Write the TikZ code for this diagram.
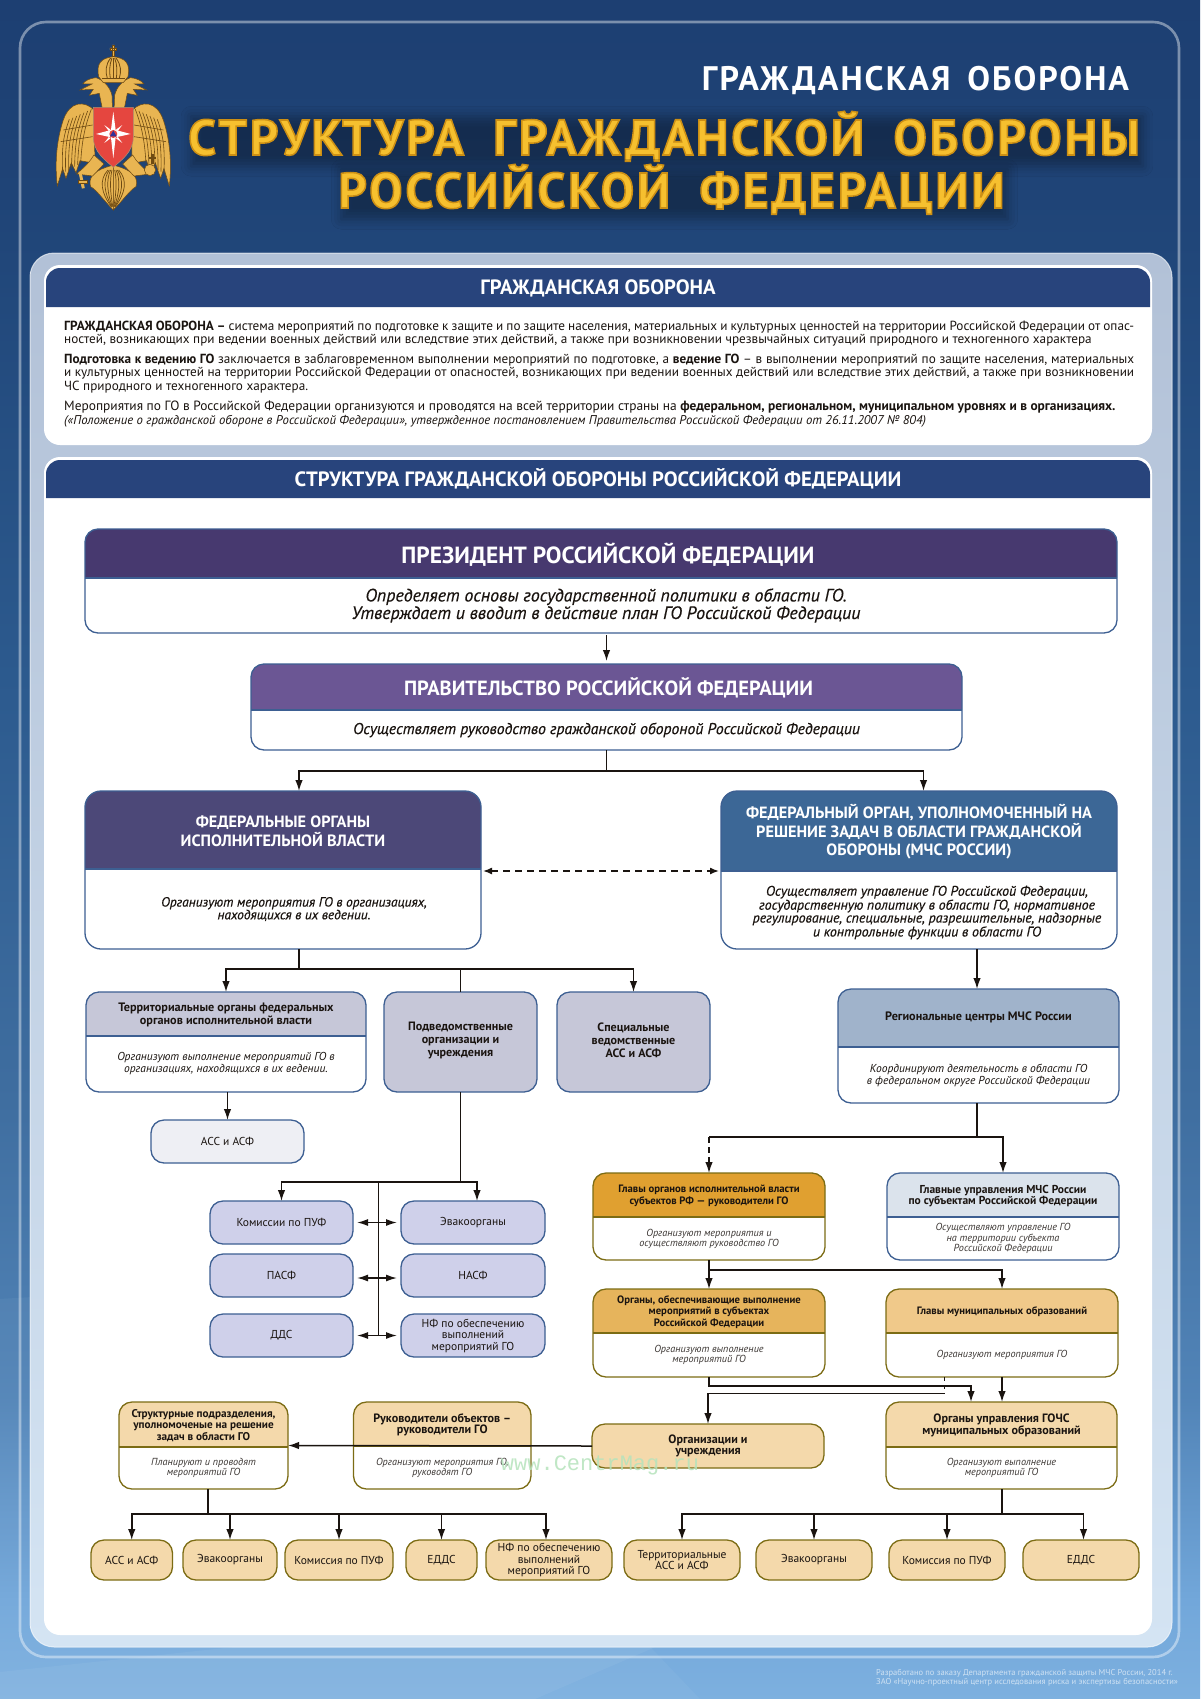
\documentclass[tikz,border=0pt]{standalone}
\usepackage{fontspec}
\setmainfont{PT Sans}
\newfontfamily\wmfont{Liberation Mono}
\newfontface\kickerfont[LetterSpace=6]{PT Sans Bold}
\newfontface\titlefont[LetterSpace=5.6,FakeBold=3]{PT Sans Bold}
\usetikzlibrary{arrows.meta,calc,shadows.blur}

\definecolor{paneltop}{HTML}{B2C1D7}
\definecolor{panellow}{HTML}{D4E4F3}
\definecolor{sechead}{HTML}{28447C}
\definecolor{edgeblue}{HTML}{3D5F92}
\definecolor{edgeolive}{HTML}{7C6C14}
\definecolor{inkc}{HTML}{1A1410}
\definecolor{eaglec}{HTML}{E9B552}
\definecolor{eagleln}{HTML}{6E4A12}
\definecolor{shieldc}{HTML}{E5463F}
\definecolor{HeadPres}{HTML}{47396F}
\definecolor{HeadGov}{HTML}{6B5694}
\definecolor{HeadFedL}{HTML}{4C4878}
\definecolor{HeadFedR}{HTML}{3C6796}
\definecolor{HeadGrey}{HTML}{C6C7D8}
\definecolor{PaleGrey}{HTML}{EEEFF4}
\definecolor{Lilac}{HTML}{CFD0EA}
\definecolor{HeadSteel}{HTML}{A0B3CB}
\definecolor{HeadGoldA}{HTML}{E0A030}
\definecolor{HeadPale}{HTML}{DBE3EC}
\definecolor{HeadGoldB}{HTML}{E6B45C}
\definecolor{HeadGoldC}{HTML}{F0C98A}
\definecolor{Tan}{HTML}{F4D9AB}
\definecolor{markc}{HTML}{B5E3BC}
\definecolor{creditc}{HTML}{CFE2F3}

\pgfdeclareverticalshading{bgfade}{100bp}{rgb(0bp)=(.49,.69,.875);
  rgb(25bp)=(.49,.69,.875); rgb(27.9bp)=(.447,.655,.855);
  rgb(33.8bp)=(.32,.518,.72); rgb(42.6bp)=(.247,.431,.627);
  rgb(54.4bp)=(.176,.357,.561); rgb(69.1bp)=(.122,.267,.467);
  rgb(75bp)=(.114,.247,.447); rgb(100bp)=(.114,.247,.447)}

\newcommand{\fs}[2]{\fontsize{#1}{#2}\selectfont}
\newcommand{\jl}[1]{\makebox[1070pt][s]{#1}}
\newcommand{\goldtext}[1]{\special{pdf:bcolor [0.965 0.753 0.184] [0.80 0.56 0.08]}#1\special{pdf:ecolor}}

\tikzset{
  hc/.store in=\hc, ec/.store in=\ec, tf/.store in=\tf, df/.store in=\df, rr/.store in=\rr,
  txs/.store in=\txs, tys/.store in=\tys, dxs/.store in=\dxs, dys/.store in=\dys,
  lvlpres/.style={hc=#1, ec=edgeblue, rr=13, tf=\fs{23.4}{27}\bfseries\color{white}, df=\fs{17.9}{16}\itshape\addfontfeature{FakeBold=0.3}\color{inkc}},
  lvlgov/.style={hc=#1, ec=edgeblue, rr=13, tf=\fs{20.5}{24}\bfseries\color{white}, df=\fs{15.7}{16}\itshape\addfontfeature{FakeBold=0.3}\color{inkc}},
  lvlfed/.style={hc=#1, ec=edgeblue, rr=16, tf=\fs{16.3}{18.6}\bfseries\color{white}, df=\fs{13.4}{12.7}\itshape\addfontfeature{FakeBold=0.3}\color{inkc}},
  lvlmid/.style={hc=#1, ec=edgeblue, rr=13, tf=\fs{12.2}{13}\bfseries\color{inkc}, df=\fs{11.5}{12}\itshape\color{inkc}},
  lvlgold/.style={hc=#1, ec=edgeolive, rr=13, tf=\fs{10.7}{11.5}\bfseries\color{inkc}, df=\fs{10.2}{10.2}\itshape\color{inkc!85}},
  lvlblue/.style={hc=#1, ec=edgeblue, rr=13, tf=\fs{11.5}{11.5}\bfseries\color{inkc}, df=\fs{10.2}{10.2}\itshape\color{inkc!85}},
  lvltan/.style={hc=#1, ec=edgeolive, rr=13, tf=\fs{12.1}{11.5}\bfseries\color{inkc}, df=\fs{10.2}{10.2}\itshape\color{inkc!85}},
  flat/.style={draw=#1, line width=1.3pt, rounded corners=13, align=center, inner sep=0pt, text=inkc},
  arr/.style={-{Latex[length=11pt,width=7.5pt]}, line width=1.5pt, draw=inkc},
  line/.style={line width=1.5pt, draw=inkc},
  twin/.style={{Latex[length=11pt,width=7pt]}-{Latex[length=11pt,width=7pt]}, line width=1.5pt, draw=inkc, shorten <=4pt, shorten >=4pt},
  sectitle/.style={font=\fs{20.7}{22}\bfseries, text=white},
  bodypar/.style={anchor=north west, inner sep=0pt, align=left, text=inkc, font=\fs{13.2}{13.7}},
  midcap/.style={align=center, text=inkc, font=\fs{12.1}{13}\bfseries},
  glow/.style={blur shadow={shadow xshift=3pt, shadow yshift=-5pt, shadow blur radius=10pt, shadow opacity=32}}
}

% box with a coloured head and a white body
\newcommand{\headbox}[9]{
  \tikzset{txs=0,tys=0,dxs=0,dys=0,#7}
  \fill[\hc] (#2,#6) [rounded corners=\rr] -- (#2,#3) -- (#4,#3) [sharp corners] -- (#4,#6) -- cycle;
  \node[draw=\ec, line width=1.3pt, rounded corners=\rr, inner sep=0pt, outer sep=0pt,
    minimum width={(#4-#2)*1pt}, minimum height={(#5-#3)*1pt}] (#1) at ({(#2+#4)/2},{(#3+#5)/2}) {};
  \draw[\ec, line width=1.3pt] (#2,#6) -- (#4,#6);
  \node[align=center, font=\tf] (#1h) at ({(#2+#4)/2+\txs},{(#3+#6)/2+1+\tys}) {#8};
  \node[align=center, font=\df] (#1b) at ({(#2+#4)/2+\txs+\dxs},{(#6+#5)/2+\dys}) {#9};
}
% box of one colour
\newcommand{\flatbox}[7]{
  \node[#6, outer sep=0pt, minimum width={(#4-#2)*1pt}, minimum height={(#5-#3)*1pt}] (#1) at ({(#2+#4)/2},{(#3+#5)/2}) {#7};
}

\begin{document}
\begin{tikzpicture}[x=1pt,y=-1pt]
\useasboundingbox (0,0) rectangle (1200,1699);
\shade[shading=bgfade] (0,0) rectangle (1200,1699);
\fill[white, opacity=0.04] (0,1299) -- (300,1280) -- (700,1699) -- (0,1699) -- cycle;
\fill[white, opacity=0.05] (0,1672) -- (300,1640) -- (660,1645) -- (535,1699) -- (0,1699) -- cycle;
\draw[white, opacity=0.42, line width=2.6pt, rounded corners=26] (20,22) rectangle (1179,1657);

% emblem
\begin{scope}[shift={(113.3,30)},x=0.3333pt,y=-0.3333pt]
\foreach \s in {1,-1} {
\begin{scope}[xscale=\s]
\fill[eaglec, draw=eagleln, line width=0.5pt] (-58,240) .. controls (-85,212) and (-130,212) .. (-150,270) .. controls (-170,330) and (-176,400) .. (-168,468) -- (-152,415) -- (-142,445) -- (-126,398) -- (-112,428) -- (-100,392) -- (-55,400) -- cycle;
\foreach \i in {0,...,6}
  \draw[eagleln, line width=0.6pt] ({-66-\i*11},{238+\i*5}) .. controls ({-90-\i*10},{300+\i*3}) and ({-95-\i*10},{350}) .. ({-98-\i*9},{400+\i*5});
\draw[eagleln, line width=0.6pt] (-62,285) -- (-150,300) (-62,320) -- (-158,335);
% head and neck
\fill[eaglec, draw=eagleln, line width=0.5pt] (-2,250) -- (-4,196) .. controls (-10,170) and (-30,150) .. (-52,143) .. controls (-70,145) and (-85,152) .. (-92,162) -- (-64,162) -- (-100,180) -- (-60,178) -- (-72,196) -- (-42,190) -- (-30,250) -- cycle;
% tail
\fill[eaglec, draw=eagleln, line width=0.5pt] (0,405) -- (-22,412) .. controls (-60,425) and (-76,445) .. (-68,470) .. controls (-50,480) and (-30,510) .. (0,540) -- cycle;
\foreach \i in {1,...,4}
  \draw[eagleln, line width=0.7pt] ({-\i*4},420) .. controls ({-\i*11},450) and ({-\i*9},490) .. ({-\i*1.5},530);
% leg
\fill[eaglec, draw=eagleln, line width=0.5pt] (-58,375) .. controls (-70,395) and (-85,410) .. (-110,432) -- (-62,438) -- (-28,402) -- cycle;
\end{scope}
}
% crown
\fill[eaglec, draw=eagleln, line width=0.5pt] (-44,140) .. controls (-52,100) and (-36,84) .. (0,80) .. controls (36,84) and (52,100) .. (44,140) -- (30,158) -- (-30,158) -- cycle;
\foreach \i in {-2,...,2}
  \draw[eagleln, line width=0.8pt] ({\i*4},84) .. controls ({\i*12},105) and ({\i*12},125) .. ({\i*9},145);
\draw[eagleln, line width=1pt] (-34,145) -- (34,145);
\fill[eaglec, draw=eagleln, line width=0.4pt] (-3,45) rectangle (3,80) (-10,54) rectangle (10,60);
% shield
\fill[shieldc, draw=eagleln!60, line width=0.5pt] (-60,232) -- (60,232) -- (60,320) .. controls (60,368) and (22,392) .. (0,412) .. controls (-22,392) and (-60,368) .. (-60,320) -- cycle;
\fill[white] (0,245) -- (7,300) -- (52,312) -- (7,322) -- (0,385) -- (-7,322) -- (-52,312) -- (-7,300) -- cycle;
\foreach \q in {45,135,225,315}
  \fill[white] ($(0,312)+(\q-12:16)$) -- ($(0,312)+(\q:38)$) -- ($(0,312)+(\q+12:16)$) -- cycle;
\fill[shieldc] (0,312) circle (12);
\fill[blue!50!black!80] (0,302) -- (10,319) -- (-10,319) -- cycle;
% orb and sword
\fill[eaglec, draw=eagleln, line width=0.5pt] (110,420) circle (17);
\draw[eagleln, line width=2.5pt] (118,403) -- (118,372) (108,384) -- (128,384);
\draw[eaglec, line width=3pt] (-100,425) -- (-90,475);
\fill[eaglec, draw=eagleln, line width=0.4pt] (-106,452) rectangle (-78,460);
\end{scope}

% titles
\node[font=\kickerfont\fs{34}{40}, text=white, inner sep=0pt, anchor=base] (kicker) at (915.5,91) {ГРАЖДАНСКАЯ\hspace{6pt} ОБОРОНА};
\node[font=\titlefont\fs{50}{56}, glow, inner sep=0pt, anchor=base] (title1) at (664,155) {\goldtext{СТРУКТУРА\hspace{14pt} ГРАЖДАНСКОЙ\hspace{14pt} ОБОРОНЫ}};
\node[font=\titlefont\fs{50}{56}, glow, inner sep=0pt, anchor=base] (title2) at (671.5,208) {\goldtext{РОССИЙСКОЙ\hspace{14pt} ФЕДЕРАЦИИ}};

% panels
\shade[top color=paneltop, bottom color=panellow, rounded corners=24] (30,253) rectangle (1172,1647);
\draw[white, opacity=0.6, line width=1pt, rounded corners=24] (30,253) rectangle (1172,1647);
\fill[white, rounded corners=16] (44,265) rectangle (1152,445);
\fill[sechead] (46,307) [rounded corners=14] -- (46,268) -- (1150,268) [sharp corners] -- (1150,307) -- cycle;
\node[sectitle] (sec1) at (598,288) {ГРАЖДАНСКАЯ ОБОРОНА};
\fill[white, rounded corners=16] (44,457) rectangle (1152,1635);
\fill[sechead] (46,498) [rounded corners=14] -- (46,460) -- (1150,460) [sharp corners] -- (1150,498) -- cycle;
\node[sectitle] (sec2) at (598,479) {СТРУКТУРА ГРАЖДАНСКОЙ ОБОРОНЫ РОССИЙСКОЙ ФЕДЕРАЦИИ};

\node[bodypar] (para1) at (64,320.5) {\jl{\textbf{ГРАЖДАНСКАЯ ОБОРОНА –} система мероприятий по подготовке к защите и по защите населения, материальных и культурных ценностей на территории Российской Федерации от опас-}\\ностей, возникающих при ведении военных действий или вследствие этих действий, а также при возникновении чрезвычайных ситуаций природного и техногенного характера};
\node[bodypar] (para2) at (64,353.5) {\jl{\textbf{Подготовка к ведению ГО} заключается в заблаговременном выполнении мероприятий по подготовке, а \textbf{ведение ГО} – в выполнении мероприятий по защите населения, материальных}\\\jl{и культурных ценностей на территории Российской Федерации от опасностей, возникающих при ведении военных действий или вследствие этих действий, а также при возникновении}\\ЧС природного и техногенного характера.};
\node[bodypar] (para3) at (64,400.5) {{\fontsize{13.4}{13.7}\selectfont Мероприятия по ГО в Российской Федерации организуются и проводятся на всей территории страны на \textbf{федеральном, региональном, муниципальном уровнях и в организациях.}}\\{\fontsize{12.7}{13.7}\selectfont\itshape («Положение о гражданской обороне в Российской Федерации», утвержденное постановлением Правительства Российской Федерации от 26.11.2007 № 804)}};

% boxes
\headbox{pres}{85}{529}{1117}{633}{578}{lvlpres=HeadPres, txs=7, dxs=-2}{ПРЕЗИДЕНТ РОССИЙСКОЙ ФЕДЕРАЦИИ}{Определяет основы государственной политики в области ГО.\\Утверждает и вводит в действие план ГО Российской Федерации}
\headbox{gov}{251}{664}{962}{750}{710}{lvlgov=HeadGov, txs=2, dxs=-2}{ПРАВИТЕЛЬСТВО РОССИЙСКОЙ ФЕДЕРАЦИИ}{Осуществляет руководство гражданской обороной Российской Федерации}
\headbox{fedl}{85}{791}{481}{949}{869}{lvlfed=HeadFedL, dxs=11}{ФЕДЕРАЛЬНЫЕ ОРГАНЫ\\ИСПОЛНИТЕЛЬНОЙ ВЛАСТИ}{Организуют мероприятия ГО в организациях,\\находящихся в их ведении.}
\headbox{fedr}{721}{791}{1117}{949}{871}{lvlfed=HeadFedR, dxs=8, dys=2.5, df=\fs{13.9}{12.9}\itshape\addfontfeature{FakeBold=0.3}\color{inkc}}{ФЕДЕРАЛЬНЫЙ ОРГАН, УПОЛНОМОЧЕННЫЙ НА\\РЕШЕНИЕ ЗАДАЧ В ОБЛАСТИ ГРАЖДАНСКОЙ\\ОБОРОНЫ (МЧС РОССИИ)}{Осуществляет управление ГО Российской Федерации,\\государственную политику в области ГО, нормативное\\регулирование, специальные, разрешительные, надзорные\\и контрольные функции в области ГО}

\headbox{terr}{86}{992}{366}{1092}{1036}{lvlmid=HeadGrey}{Территориальные органы федеральных\\органов исполнительной власти}{Организуют выполнение мероприятий ГО в\\организациях, находящихся в их ведении.}
\flatbox{podv}{384}{992}{537}{1092}{flat=edgeblue, fill=HeadGrey}{}
\node[midcap] (podvt) at ($(podv)+(0,-2)$) {Подведомственные\\организации и\\учреждения};
\flatbox{spec}{557}{992}{710}{1092}{flat=edgeblue, fill=HeadGrey}{}
\node[midcap] (spect) at ($(spec)+(0,-2)$) {Специальные\\ведомственные\\АСС и АСФ};
\flatbox{assf}{151}{1120}{304}{1163}{flat=edgeblue, fill=PaleGrey, font=\fs{11.5}{12}}{АСС и АСФ}

\flatbox{komis}{210}{1201}{353}{1244}{flat=edgeblue, fill=Lilac, font=\fs{11.5}{12}}{Комиссии по ПУФ}
\flatbox{evak}{401}{1201}{545}{1244}{flat=edgeblue, fill=Lilac, font=\fs{11.5}{12}}{Эвакоорганы}
\flatbox{pasf}{210}{1254}{353}{1297}{flat=edgeblue, fill=Lilac, font=\fs{11.5}{12}}{\raisebox{-5pt}{ПАСФ}}
\flatbox{nasf}{401}{1254}{545}{1297}{flat=edgeblue, fill=Lilac, font=\fs{11.5}{12}}{НАСФ}
\flatbox{dds}{210}{1314}{353}{1357}{flat=edgeblue, fill=Lilac, font=\fs{11.5}{12}}{\raisebox{-5pt}{ДДС}}
\flatbox{nfgo}{401}{1314}{545}{1357}{flat=edgeblue, fill=Lilac, font=\fs{11.5}{11.5}}{НФ по обеспечению\\выполнений\\мероприятий ГО}

\headbox{reg}{838}{989}{1119}{1103}{1047}{lvlmid=HeadSteel, tys=-2}{Региональные центры МЧС России}{Координируют деятельность в области ГО\\в федеральном округе Российской Федерации}
\headbox{glavy}{593}{1173}{825}{1260}{1217}{lvlgold=HeadGoldA}{Главы органов исполнительной власти\\субъектов РФ — руководители ГО}{Организуют мероприятия и\\осуществляют руководство ГО}
\headbox{glavn}{887}{1173}{1119}{1260}{1217}{lvlblue=HeadPale}{Главные управления МЧС России\\по субъектам Российской Федерации}{Осуществляют управление ГО\\на территории субъекта\\Российской Федерации}
\headbox{obesp}{593}{1289}{825}{1377}{1333}{lvlgold=HeadGoldB}{Органы, обеспечивающие выполнение\\мероприятий в субъектах\\Российской Федерации}{Организуют выполнение\\мероприятий ГО}
\headbox{mun}{886}{1289}{1118}{1377}{1333}{lvlgold=HeadGoldC}{Главы муниципальных образований}{Организуют мероприятия ГО}
\flatbox{orguch}{592}{1424}{824}{1468}{flat=edgeolive, fill=Tan, font=\fs{12.1}{11.5}\bfseries}{Организации и\\учреждения}
\headbox{upr}{886}{1402}{1117}{1489}{1447}{lvltan=Tan}{Органы управления ГОЧС\\муниципальных образований}{Организуют выполнение\\мероприятий ГО}
\headbox{ruk}{353.5}{1402}{531}{1489}{1446}{lvltan=Tan}{Руководители объектов –\\руководители ГО}{Организуют мероприятия ГО,\\руководят ГО}
\headbox{struct}{119}{1402}{288}{1489}{1447}{lvltan=Tan, tf=\fs{11.2}{11.4}\bfseries\color{inkc}}{Структурные подразделения,\\уполномоченые на решение\\задач в области ГО}{Планируют и проводят\\мероприятий ГО}

\flatbox{bassf}{91}{1540}{172.5}{1580}{flat=edgeolive, fill=Tan, font=\fs{11.5}{11.5}}{АСС и АСФ}
\flatbox{bevak}{183}{1540}{277}{1580}{flat=edgeolive, fill=Tan, font=\fs{11.5}{11.5}}{Эвакоорганы}
\flatbox{bkom}{285}{1540}{393}{1580}{flat=edgeolive, fill=Tan, font=\fs{11.5}{11.5}}{Комиссия по ПУФ}
\flatbox{bedds}{406}{1540}{477}{1580}{flat=edgeolive, fill=Tan, font=\fs{11.5}{11.5}}{ЕДДС}
\flatbox{bnf}{486}{1540}{612}{1580}{flat=edgeolive, fill=Tan, font=\fs{11.5}{11.5}}{НФ по обеспечению\\выполнений\\мероприятий ГО}
\flatbox{rterr}{624}{1540}{740}{1580}{flat=edgeolive, fill=Tan, font=\fs{11.5}{11.5}}{Территориальные\\АСС и АСФ}
\flatbox{revak}{756}{1540}{872}{1580}{flat=edgeolive, fill=Tan, font=\fs{11.5}{11.5}}{Эвакоорганы}
\flatbox{rkom}{889}{1540}{1005}{1580}{flat=edgeolive, fill=Tan, font=\fs{11.5}{11.5}}{Комиссия по ПУФ}
\flatbox{redds}{1023}{1540}{1139}{1580}{flat=edgeolive, fill=Tan, font=\fs{11.5}{11.5}}{ЕДДС}

% connectors
\coordinate (govbus) at (606.5,771);
\coordinate (fedbus) at (299,969);
\coordinate (podvbus) at (460.5,1182);
\coordinate (spine) at (378.5,1182);
\coordinate (spineend) at (378.5,1336);
\coordinate (regbus) at (977,1137);
\coordinate (glavbus) at (709,1270);
\coordinate (obespbus) at (971,1386);
\coordinate (munbus) at (944.5,1393.5);
\coordinate (structbus) at (208,1514);
\coordinate (uprbus) at (1002,1514);

\draw[arr, shorten <=2pt, shorten >=3pt] (pres.south -| gov.north) -- (gov.north);
\draw[line] (gov.south -| govbus) -- (govbus);
\draw[arr] (govbus) -| ($(fedl.north)+(16,0)$);
\draw[arr] (govbus) -| ($(fedr.north)+(4.5,0)$);
\draw[{Latex[length=9pt,width=7pt]}-{Latex[length=9pt,width=7pt]}, line width=1.5pt, draw=inkc, dash pattern=on 7pt off 5pt, shorten <=2pt, shorten >=2pt] ($(fedl.east)+(0,1)$) -- ($(fedr.west)+(0,1)$);

\draw[line] (fedl.south -| fedbus) -- (fedbus);
\draw[arr] (fedbus) -| (terr.north);
\draw[arr] (fedbus) -| (spec.north);
\draw[line] (podv.north |- fedbus) -- (podv.north);
\draw[arr] (fedr.south -| regbus) -- (regbus |- reg.north);
\draw[arr] (terr.south -| assf.north) -- (assf.north);

\draw[line] (podv.south) -- (podvbus);
\draw[arr] (podvbus) -| (komis.north);
\draw[arr] (podvbus) -| ($(evak.north)+(4,0)$);
\draw[line] (spine) -- (spineend);
\draw[twin] (komis.east) -- (evak.west);
\draw[twin] ($(pasf.east)+(0,2.5)$) -- ($(nasf.west)+(0,2.5)$);
\draw[twin] (dds.east) -- (nfgo.west);

\draw[line] (reg.south -| regbus) -- (regbus);
\draw[line] (regbus) -- (regbus -| glavy.north);
\draw[arr, dash pattern=on 6pt off 4pt] (glavy.north |- regbus) -- (glavy.north);
\draw[arr] (regbus) -| (glavn.north);
\draw[arr] (glavy.south) -- (obesp.north);
\draw[arr] (glavbus) -| (mun.north);
\draw[arr] (obesp.south) |- (obespbus) -- (obespbus |- upr.north);
\draw[arr] (mun.south) -- (mun.south |- upr.north);
\draw[line, dash pattern=on 4pt off 4pt] (munbus |- mun.south) -- (munbus);
\draw[arr] (munbus) -| (orguch.north);
\draw[arr] (orguch.west) -- (struct.east);

\draw[line] (struct.south -| structbus) -- (structbus);
\draw[arr] (structbus) -| (bassf.north);
\draw[arr] (structbus) -| (bevak.north);
\draw[arr] (structbus) -| (bkom.north);
\draw[arr] (structbus) -| (bedds.north);
\draw[arr] (structbus) -| ($(bnf.north)+(-3,0)$);
\draw[line] (upr.south -| uprbus) -- (uprbus);
\draw[arr] (uprbus) -| (rterr.north);
\draw[arr] (uprbus) -| (revak.north);
\draw[arr] (uprbus) -| (rkom.north);
\draw[arr] (uprbus) -| ($(redds.north)+(2.5,0)$);

% watermark and credit
\node[font=\wmfont\fs{22}{24}, text=markc, opacity=0.85, inner sep=0pt] (wmark) at (600,1465) {www.CentrMag.ru};
\node[anchor=north west, inner sep=0pt, align=left, font=\fs{8.5}{8.7}, text=creditc] (credit) at (876,1669) {Разработано по заказу Департамента гражданской защиты МЧС России, 2014 г.\\ЗАО «Научно-проектный центр исследования риска и экспертизы безопасности»};
\end{tikzpicture}
\end{document}
